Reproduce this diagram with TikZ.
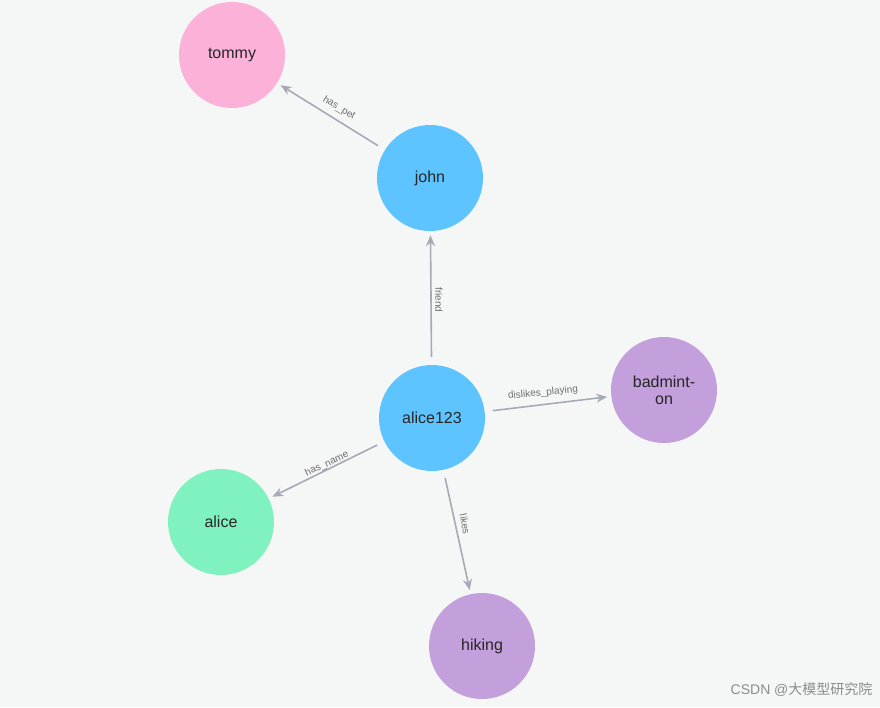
\documentclass[tikz,border=0pt]{standalone}
\usepackage{fontspec}
\setmainfont{Liberation Sans}
\newfontfamily\cjk{Noto Sans CJK SC}
\usetikzlibrary{arrows.meta}
\definecolor{bg}{HTML}{F5F6F6}
\definecolor{nblue}{HTML}{5EC4FF}
\definecolor{npink}{HTML}{FBB1D8}
\definecolor{npurple}{HTML}{C39FDB}
\definecolor{ngreen}{HTML}{7FF2C0}
\definecolor{edgec}{HTML}{A5ABB6}
\definecolor{labc}{HTML}{6E6E6E}
\begin{document}
\begin{tikzpicture}[x=1pt,y=-1pt,
  gnode/.style={circle,minimum size=106pt,inner sep=0pt,font=\fontsize{16}{17}\selectfont,text=black!85,align=center},
  edge/.style={draw=edgec,line width=1.6pt,-{Stealth[length=11pt,width=9pt]},shorten <=8pt,shorten >=4pt},
  elab/.style={font=\fontsize{10}{11}\selectfont,text=labc,inner sep=1pt}]
\fill[bg] (0,0) rectangle (880,707);
\node[gnode,fill=npink] (tommy) at (232,55) {tommy};
\node[gnode,fill=nblue] (john) at (430,178) {john};
\node[gnode,fill=nblue] (alice123) at (432,418) {alice123};
\node[gnode,fill=npurple] (badminton) at (664,390) {badmint-\\on};
\node[gnode,fill=ngreen] (alice) at (221,522) {alice};
\node[gnode,fill=npurple] (hiking) at (482,646) {hiking};
\draw[edge] (john) -- (tommy);
\draw[edge] (alice123) -- (john);
\draw[edge] (alice123) -- (badminton);
\draw[edge] (alice123) -- (alice);
\draw[edge] (alice123) -- (hiking);
\node[elab,rotate=-31] (l1) at (339,108) {has\_pet};
\node[elab,rotate=-90] (l2) at (439,300) {friend};
\node[elab,rotate=5.6] (l3) at (543,393) {dislikes\_playing};
\node[elab,rotate=25] (l4) at (327,464) {has\_name};
\node[elab,rotate=-79] (l5) at (465,524) {likes};
\node[font=\fontsize{14}{15}\selectfont,text=black!45,anchor=east] (wm) at (876,690) {CSDN @{\cjk 大模型研究院}};
\end{tikzpicture}
\end{document}
